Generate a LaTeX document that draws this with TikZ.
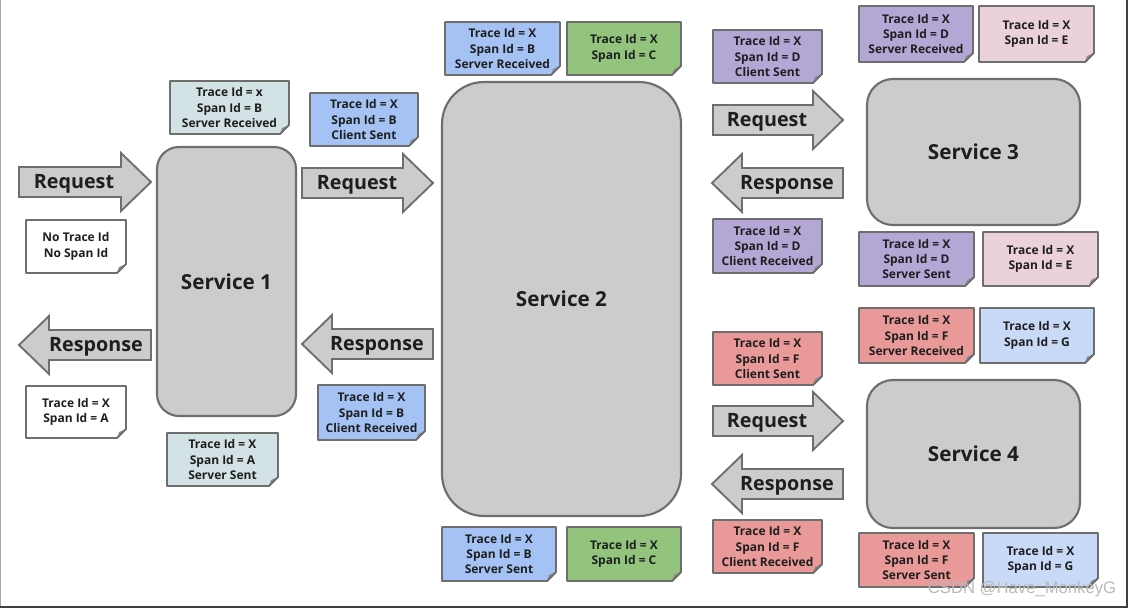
\documentclass[tikz,border=0pt]{standalone}
\usepackage{fontspec}
\setmainfont{Open Sans}
\newfontfamily\wmfont{Liberation Sans}
\definecolor{svcfill}{HTML}{CCCCCC}
\definecolor{bd}{HTML}{6E6E6E}
\definecolor{foldc}{HTML}{8A8A8A}
\definecolor{nteal}{HTML}{D3E2E5}
\definecolor{nblue}{HTML}{A4C2F4}
\definecolor{ngreen}{HTML}{93C47D}
\definecolor{npurple}{HTML}{B4A7D6}
\definecolor{npink}{HTML}{EAD1DC}
\definecolor{nred}{HTML}{EA9999}
\definecolor{nlblue}{HTML}{C9DAF8}
\definecolor{txt}{HTML}{1E1E1E}
\tikzset{
  notebd/.style={draw=bd, line width=1.3pt, line join=round},
  notetext/.style={inner sep=0pt, align=center, text=txt,
    font=\fontsize{9}{11.6}\selectfont\bfseries},
  svc/.style={draw=bd, fill=svcfill, line width=1.6pt, inner sep=0pt,
    font=\fontsize{15.5}{18}\selectfont\bfseries, text=txt},
  blockarrow/.style={draw=bd, fill=svcfill, line width=1.4pt, line join=miter},
  arrowtext/.style={inner sep=0pt, text=txt, font=\fontsize{14.8}{17}\selectfont\bfseries},
}
% name, x1, y1, x2, y2, colour, text
\newcommand{\notebox}[7]{%
  \draw[notebd, fill=#6] (#2,#3) -- (#4,#3) -- (#4,#5-9) -- (#4-9,#5) -- (#2,#5) -- cycle;
  \fill[foldc] (#4,#5-9) -- (#4-9,#5) -- (#4-7,#5-6) -- cycle;
  \draw[notebd] (#4,#5-9) -- (#4-9,#5);
  \node[notetext] (#1) at ({(#2+#4)/2},{(#3+#5)/2}) {#7};}
% name, x1, y1, x2, y2, radius(px), text
\newcommand{\service}[7]{%
  \node[svc, rounded corners=#6*0.75pt, minimum width={(#4-#2)*0.75pt},
    minimum height={(#5-#3)*0.75pt}] (#1) at ({(#2+#4)/2},{(#3+#5)/2}) {#7};}
% right arrow: name, tail x, tip x, centre y, text, text x
\newcommand{\rarrow}[6]{%
  \draw[blockarrow] (#2,#4-15) -- (#3-30,#4-15) -- (#3-30,#4-29) -- (#3,#4)
    -- (#3-30,#4+29) -- (#3-30,#4+15) -- (#2,#4+15) -- cycle;
  \node[arrowtext] (#1) at (#6,#4+2) {#5};}
% left arrow: name, tip x, tail x, centre y, text, text x
\newcommand{\larrow}[6]{%
  \draw[blockarrow] (#3,#4-15) -- (#2+30,#4-15) -- (#2+30,#4-29) -- (#2,#4)
    -- (#2+30,#4+29) -- (#2+30,#4+15) -- (#3,#4+15) -- cycle;
  \node[arrowtext] (#1) at (#6,#4+2) {#5};}
\begin{document}
\begin{tikzpicture}[x=0.75pt,y=-0.75pt]
\useasboundingbox (0,0) rectangle (1130,608);
\fill[white] (0,0) rectangle (1130,608);
% frame
\draw[gray!70, line width=1pt] (0.6,0) -- (0.6,606);
\draw[black!75, line width=1.5pt] (0,606.5) -- (1126.5,606.5) -- (1126.5,0);

% services
\service{s1}{157}{147}{296}{416}{22}{Service 1}
\service{s2}{442}{82}{681}{516}{42}{Service 2}
\service{s3}{867}{79}{1080}{225}{26}{Service 3}
\service{s4}{867}{380}{1080}{528}{26}{Service 4}

% block arrows
\rarrow{req1}{19}{151}{182}{Request}{74}
\larrow{res1}{19}{151}{345}{Response}{96}
\rarrow{req2}{302}{433}{183}{Request}{357}
\larrow{res2}{302}{433}{344}{Response}{377}
\rarrow{req3}{713}{843}{120}{Request}{767}
\larrow{res3}{712}{843}{183}{Response}{787}
\rarrow{req4}{713}{843}{421}{Request}{767}
\larrow{res4}{712}{843}{484}{Response}{787}

% notes
\notebox{n0}{26}{220}{126}{273}{white}{No Trace Id\\No Span Id}
\notebox{n1}{26}{386}{126}{438}{white}{Trace Id = X\\Span Id = A}
\notebox{n2}{170}{81}{289}{134}{nteal}{Trace Id = x\\Span Id = B\\Server Received}
\notebox{n3}{167}{433}{278}{486}{nteal}{Trace Id = X\\Span Id = A\\Server Sent}
\notebox{n4}{310}{93}{418}{146}{nblue}{Trace Id = X\\Span Id = B\\Client Sent}
\notebox{n5}{318}{385}{425}{440}{nblue}{Trace Id = X\\Span Id = B\\Client Received}
\notebox{n6}{445}{22}{560}{75}{nblue}{Trace Id = X\\Span Id = B\\Server Received}
\notebox{n7}{567}{22}{681}{75}{ngreen}{Trace Id = X\\Span Id = C}
\notebox{n8}{442}{527}{556}{581}{nblue}{Trace Id = X\\Span Id = B\\Server Sent}
\notebox{n9}{567}{527}{681}{581}{ngreen}{Trace Id = X\\Span Id = C}
\notebox{n10}{713}{30}{822}{83}{npurple}{Trace Id = X\\Span Id = D\\Client Sent}
\notebox{n11}{859}{6}{973}{62}{npurple}{Trace Id = X\\Span Id = D\\Server Received}
\notebox{n12}{979}{6}{1094}{62}{npink}{Trace Id = X\\Span Id = E}
\notebox{n13}{713}{219}{822}{273}{npurple}{Trace Id = X\\Span Id = D\\Client Received}
\notebox{n14}{859}{232}{974}{286}{npurple}{Trace Id = X\\Span Id = D\\Server Sent}
\notebox{n15}{983}{232}{1098}{286}{npink}{Trace Id = X\\Span Id = E}
\notebox{n16}{859}{308}{974}{363}{nred}{Trace Id = X\\Span Id = F\\Server Received}
\notebox{n17}{980}{308}{1094}{363}{nlblue}{Trace Id = X\\Span Id = G}
\notebox{n18}{713}{332}{822}{385}{nred}{Trace Id = X\\Span Id = F\\Client Sent}
\notebox{n19}{713}{520}{822}{573}{nred}{Trace Id = X\\Span Id = F\\Client Received}
\notebox{n20}{859}{533}{974}{587}{nred}{Trace Id = X\\Span Id = F\\Server Sent}
\notebox{n21}{983}{533}{1098}{587}{nlblue}{Trace Id = X\\Span Id = G}

% watermark
\node[inner sep=0pt, text=gray!55, font=\wmfont\fontsize{12.5}{14}\selectfont] (wm) at (1022,589) {CSDN @Have\_MonkeyG};
\end{tikzpicture}
\end{document}
